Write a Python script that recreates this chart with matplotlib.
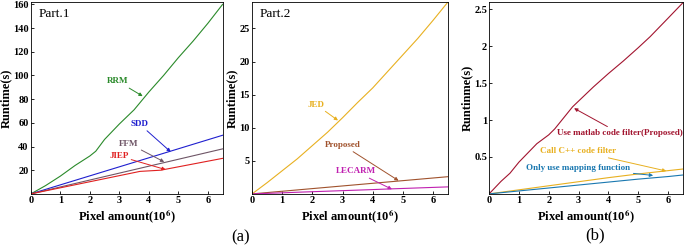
import numpy as np
import matplotlib
matplotlib.use('Agg')
import matplotlib.pyplot as plt

plt.rcParams['font.family'] = ['Liberation Serif', 'DejaVu Serif']
plt.rcParams['mathtext.fontset'] = 'stix'

# ---- data (pixel amount in 10^6, runtime in s) ----
x1 = [0, 0.5, 1, 1.5, 2, 2.2, 2.5, 3, 3.5, 3.7, 4, 4.5, 5, 5.5, 6, 6.5]
rrm = [0, 7, 15, 24, 32, 36, 46, 59, 71, 77, 86, 100, 115, 129, 144, 160]
x1_lin = [0, 6.5]
sdd = [0, 49.5]
ffm = [0, 38]
x_jiep = [0, 3.7, 4.4, 6.5]
jiep = [0, 19, 20, 30]

x2 = [0, 0.5, 1, 1.5, 2, 2.5, 3, 3.5, 4, 4.5, 5, 5.5, 6, 6.5]
jed = [0, 1.7, 3.5, 5.3, 7.3, 9.3, 11.5, 13.8, 16.0, 18.5, 21.0, 23.5, 26.2, 29.0]
proposed = [0, 0.2, 0.4, 0.6, 0.8, 1.0, 1.2, 1.4, 1.6, 1.8, 2.0, 2.2, 2.4, 2.6]
lecarm = [0, 0.08, 0.16, 0.25, 0.33, 0.41, 0.49, 0.57, 0.65, 0.74, 0.82, 0.9, 0.98, 1.06]

x3 = [0, 0.4, 0.7, 1, 1.6, 2, 2.2, 2.8, 3.5, 4, 4.5, 5, 5.4, 6, 6.5]
matlab_f = [0, 0.17, 0.28, 0.43, 0.68, 0.8, 0.88, 1.18, 1.45, 1.63, 1.8, 1.98, 2.13, 2.38, 2.59]
x3b = [0, 1, 2, 3, 4, 5, 6, 6.5]
cpp_f = [0, 0.055, 0.11, 0.165, 0.22, 0.27, 0.315, 0.337]
map_f = [0, 0.04, 0.08, 0.12, 0.16, 0.2, 0.235, 0.256]

fig = plt.figure(figsize=(6.85, 2.47), dpi=100)
bottom, height = 0.215, 0.777
ax1 = fig.add_axes([0.045, bottom, 0.280, height])
ax2 = fig.add_axes([0.368, bottom, 0.286, height])
ax3 = fig.add_axes([0.714, bottom, 0.283, height])


def style(ax, ylim, yticks, ylabel):
    ax.set_xlim(0, 6.5)
    ax.set_ylim(*ylim)
    ax.set_xticks(range(7))
    ax.set_yticks(yticks)
    ax.tick_params(direction='in', length=2.5, width=0.6, labelsize=7.5, pad=1.5)
    for lab in ax.get_xticklabels() + ax.get_yticklabels():
        lab.set_fontweight('bold')
    ax.set_xlabel('Pixel amount(10$^\\mathbf{6}$)', fontsize=9, fontweight='bold', labelpad=2)
    ax.set_ylabel(ylabel, fontsize=9, fontweight='bold', labelpad=1)
    for s in ax.spines.values():
        s.set_linewidth(0.6)


def note(ax, txt, xy, xytext, color):
    ax.annotate(txt, xy=xy, xytext=xytext, color=color, fontsize=6.5, fontweight='bold',
                ha='center', va='center',
                arrowprops=dict(arrowstyle='-|>', color=color, lw=0.7,
                                mutation_scale=5, shrinkA=0, shrinkB=0))


# Part 1
c_rrm, c_sdd, c_ffm, c_jiep = '#2a8a2a', '#1f1fcf', '#6e5566', '#e02020'
ax1.plot(x1, rrm, color=c_rrm, lw=0.8)
ax1.plot(x1_lin, sdd, color=c_sdd, lw=0.8)
ax1.plot(x1_lin, ffm, color=c_ffm, lw=0.8)
ax1.plot(x_jiep, jiep, color=c_jiep, lw=0.8)
style(ax1, (0, 162), range(20, 161, 20), 'Runtime(s)')
ax1.text(0.25, 149, 'Part.1', fontsize=9.5)
note(ax1, 'RRM', (3.79, 82.5), (2.95, 95), c_rrm)
note(ax1, 'SDD', (4.74, 35.5), (3.68, 59), c_sdd)
note(ax1, 'FFM', (4.52, 27), (3.32, 42.5), c_ffm)
note(ax1, 'JIEP', (4.57, 20.5), (2.98, 32), c_jiep)

# Part 2
c_jed, c_prop, c_lec = '#e8b020', '#a0522d', '#c020b0'
ax2.plot(x2, jed, color=c_jed, lw=0.8)
ax2.plot(x2, proposed, color=c_prop, lw=0.8)
ax2.plot(x2, lecarm, color=c_lec, lw=0.8)
style(ax2, (0, 29), range(5, 26, 5), 'Runtime(s)')
ax2.text(0.25, 26.7, 'Part.2', fontsize=9.5)
note(ax2, 'JED', (2.85, 11.1), (2.12, 13.5), c_jed)
note(ax2, 'Proposed', (4.86, 2.0), (3.0, 7.4), c_prop)
note(ax2, 'LECARM', (4.64, 0.7), (3.43, 3.4), c_lec)

# (b)
c_mat, c_cpp, c_map = '#a2142f', '#e8b020', '#1a78b0'
ax3.plot(x3, matlab_f, color=c_mat, lw=0.8)
ax3.plot(x3b, cpp_f, color=c_cpp, lw=0.8)
ax3.plot(x3b, map_f, color=c_map, lw=0.8)
style(ax3, (0, 2.6), [0.5, 1, 1.5, 2, 2.5], 'Runtinme(s)')
ax3.set_yticklabels(['0.5', '1', '1.5', '2', '2.5'], fontweight='bold')
note(ax3, 'Use matlab code filter(Proposed)', (2.85, 1.16), (4.38, 0.82), c_mat)
note(ax3, 'Call C++ code filter', (5.94, 0.31), (3.0, 0.58), c_cpp)
note(ax3, 'Only use mapping function', (5.5, 0.25), (3.0, 0.355), c_map)

fig.text(231 / 685, 1 - 237 / 247, '(a)', fontsize=12, ha='left', va='center')
fig.text(595 / 685, 1 - 235 / 247, '(b)', fontsize=12, ha='center', va='center')

fig.savefig('out.png', dpi=100)
